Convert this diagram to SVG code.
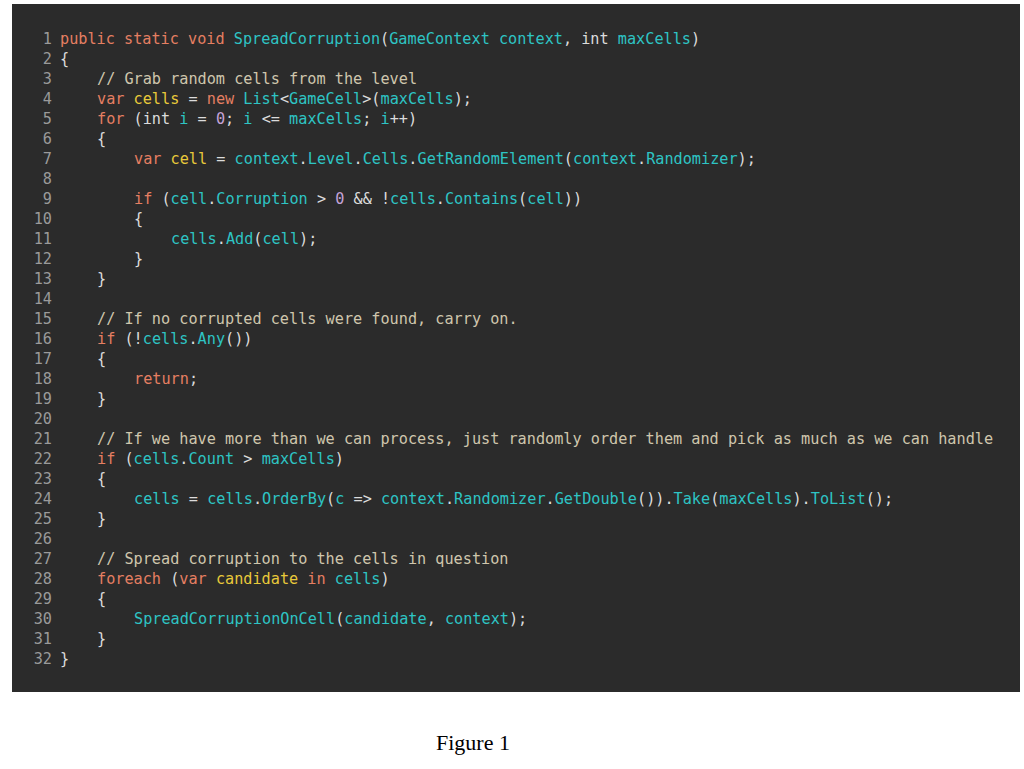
<svg xmlns="http://www.w3.org/2000/svg" width="1024" height="769" viewBox="0 0 1024 769">
<style>
text{font-family:"DejaVu Sans Mono","Liberation Mono",monospace;font-size:15.2px;fill:#dcdcdc}
.ln{fill:#9a9a9a;text-anchor:end}
.k{fill:#e57f62}.f{fill:#2ec4c4}.v{fill:#e8c93a}.c{fill:#cfc6ad}.n{fill:#c5a3d8}
.cap{font-family:"Liberation Serif",serif;font-size:22px;fill:#000}
</style>
<rect width="1024" height="769" fill="#fff"/>
<rect x="12" y="4" width="1008" height="688" fill="#2b2b2b"/>
<g id="line-numbers">
<text class="ln" x="52" y="44">1</text><text class="ln" x="52" y="64">2</text><text class="ln" x="52" y="84">3</text><text class="ln" x="52" y="104">4</text><text class="ln" x="52" y="124">5</text><text class="ln" x="52" y="144">6</text><text class="ln" x="52" y="164">7</text><text class="ln" x="52" y="184">8</text><text class="ln" x="52" y="204">9</text><text class="ln" x="52" y="224">10</text><text class="ln" x="52" y="244">11</text><text class="ln" x="52" y="264">12</text><text class="ln" x="52" y="284">13</text><text class="ln" x="52" y="304">14</text><text class="ln" x="52" y="324">15</text><text class="ln" x="52" y="344">16</text><text class="ln" x="52" y="364">17</text><text class="ln" x="52" y="384">18</text><text class="ln" x="52" y="404">19</text><text class="ln" x="52" y="424">20</text><text class="ln" x="52" y="444">21</text><text class="ln" x="52" y="464">22</text><text class="ln" x="52" y="484">23</text><text class="ln" x="52" y="504">24</text><text class="ln" x="52" y="524">25</text><text class="ln" x="52" y="544">26</text><text class="ln" x="52" y="564">27</text><text class="ln" x="52" y="584">28</text><text class="ln" x="52" y="604">29</text><text class="ln" x="52" y="624">30</text><text class="ln" x="52" y="644">31</text><text class="ln" x="52" y="664">32</text>
</g>
<g id="code" xml:space="preserve">
<text x="60" y="44"><tspan class="k">public static void </tspan><tspan class="f">SpreadCorruption</tspan>(<tspan class="f">GameContext context</tspan>, int <tspan class="f">maxCells</tspan>)</text>
<text x="60" y="64">{</text>
<text x="97" y="84" class="c">// Grab random cells from the level</text>
<text x="97" y="104"><tspan class="k">var </tspan><tspan class="v">cells</tspan> = <tspan class="k">new </tspan><tspan class="f">List</tspan>&lt;<tspan class="f">GameCell</tspan>&gt;(<tspan class="f">maxCells</tspan>);</text>
<text x="97" y="124"><tspan class="k">for</tspan> (int <tspan class="f">i</tspan> = <tspan class="n">0</tspan>; <tspan class="f">i</tspan> &lt;= <tspan class="f">maxCells</tspan>; <tspan class="f">i</tspan>++)</text>
<text x="97" y="144">{</text>
<text x="134" y="164"><tspan class="k">var </tspan><tspan class="v">cell</tspan> = <tspan class="f">context</tspan>.<tspan class="f">Level</tspan>.<tspan class="f">Cells</tspan>.<tspan class="f">GetRandomElement</tspan>(<tspan class="f">context</tspan>.<tspan class="f">Randomizer</tspan>);</text>
<text x="134" y="204"><tspan class="k">if</tspan> (<tspan class="f">cell</tspan>.<tspan class="f">Corruption</tspan> &gt; <tspan class="n">0</tspan> &amp;&amp; !<tspan class="f">cells</tspan>.<tspan class="f">Contains</tspan>(<tspan class="f">cell</tspan>))</text>
<text x="134" y="224">{</text>
<text x="171" y="244"><tspan class="f">cells</tspan>.<tspan class="f">Add</tspan>(<tspan class="f">cell</tspan>);</text>
<text x="134" y="264">}</text>
<text x="97" y="284">}</text>
<text x="97" y="324" class="c">// If no corrupted cells were found, carry on.</text>
<text x="97" y="344"><tspan class="k">if</tspan> (!<tspan class="f">cells</tspan>.<tspan class="f">Any</tspan>())</text>
<text x="97" y="364">{</text>
<text x="134" y="384"><tspan class="k">return</tspan>;</text>
<text x="97" y="404">}</text>
<text x="97" y="444" class="c">// If we have more than we can process, just randomly order them and pick as much as we can handle</text>
<text x="97" y="464"><tspan class="k">if</tspan> (<tspan class="f">cells</tspan>.<tspan class="f">Count</tspan> &gt; <tspan class="f">maxCells</tspan>)</text>
<text x="97" y="484">{</text>
<text x="134" y="504"><tspan class="f">cells</tspan> = <tspan class="f">cells</tspan>.<tspan class="f">OrderBy</tspan>(<tspan class="f">c</tspan> =&gt; <tspan class="f">context</tspan>.<tspan class="f">Randomizer</tspan>.<tspan class="f">GetDouble</tspan>()).<tspan class="f">Take</tspan>(<tspan class="f">maxCells</tspan>).<tspan class="f">ToList</tspan>();</text>
<text x="97" y="524">}</text>
<text x="97" y="564" class="c">// Spread corruption to the cells in question</text>
<text x="97" y="584"><tspan class="k">foreach</tspan> (<tspan class="k">var </tspan><tspan class="v">candidate</tspan> <tspan class="k">in</tspan> <tspan class="f">cells</tspan>)</text>
<text x="97" y="604">{</text>
<text x="134" y="624"><tspan class="f">SpreadCorruptionOnCell</tspan>(<tspan class="f">candidate</tspan>, <tspan class="f">context</tspan>);</text>
<text x="97" y="644">}</text>
<text x="60" y="664">}</text>
</g>
<text class="cap" x="473" y="750" text-anchor="middle">Figure 1</text>
</svg>
